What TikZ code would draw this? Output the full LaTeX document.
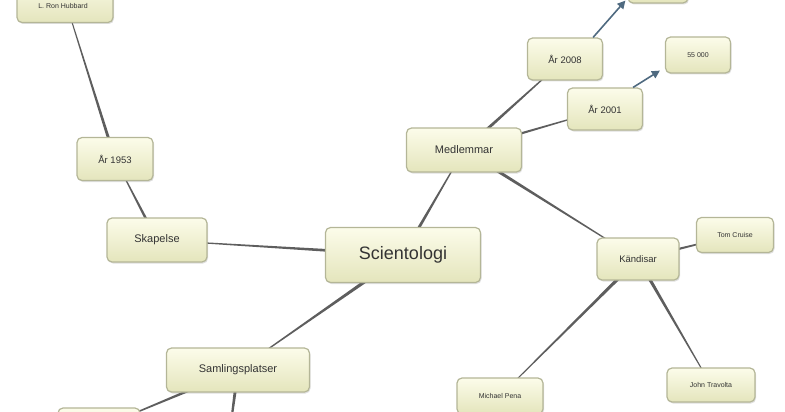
\documentclass[tikz,border=0pt]{standalone}
\usepackage{fontspec}
\setmainfont{Liberation Sans}
\usetikzlibrary{calc,backgrounds,shadows,arrows.meta}
\definecolor{edgec}{HTML}{5E5E5E}
\definecolor{arrc}{HTML}{4F6A80}
\definecolor{boxtop}{HTML}{FCFCEA}
\definecolor{boxbot}{HTML}{E4E5BC}
\definecolor{boxline}{HTML}{B4B697}
\tikzset{
  box/.style={draw=boxline, line width=1.2pt, rounded corners=5pt, top color=boxtop, bottom color=boxbot,
    drop shadow={shadow xshift=1pt,shadow yshift=-1.5pt,opacity=0.25}, font=\fontsize{9.5}{11}\selectfont, text=black!80, inner sep=0pt},
  sbox/.style={box, font=\fontsize{7}{8}\selectfont},
  lbl/.style={font=\fontsize{7}{8}\selectfont, text=black!80, inner sep=0pt},
  arr/.style={draw=arrc, line width=1.6pt, -{Triangle[length=8pt,width=8pt]}}
}
\newcommand{\taper}[3]{\fill[edgec] ($(#1)!#3!90:(#2)$) -- ($(#2)!0.35pt!-90:(#1)$) -- ($(#2)!0.35pt!90:(#1)$) -- ($(#1)!#3!-90:(#2)$) -- cycle;}
\begin{document}
\begin{tikzpicture}[x=1pt,y=-1pt]
\useasboundingbox (0,0) rectangle (785,412);
\node[box, minimum width=96pt, minimum height=45pt] (lrh) at (65,0) {};
\node[lbl] (lrht) at (63,6) {L. Ron Hubbard};
\node[box, minimum width=76pt, minimum height=43pt] (y53) at (115,159) {År 1953};
\node[box, minimum width=100pt, minimum height=44pt, font=\fontsize{11}{12}\selectfont] (skap) at (157,240) {Skapelse};
\node[box, minimum width=155pt, minimum height=55pt, font=\fontsize{18}{20}\selectfont] (sci) at (403,255) {Scientologi};
\node[box, minimum width=143pt, minimum height=44pt, font=\fontsize{11}{12}\selectfont] (saml) at (238,370) {Samlingsplatser};
\node[box, minimum width=82pt, minimum height=40pt] (bl) at (99,428) {};
\coordinate (bot) at (226,460);
\node[box, minimum width=115pt, minimum height=44pt, font=\fontsize{11}{12}\selectfont] (med) at (464,150) {Medlemmar};
\node[box, minimum width=75pt, minimum height=42pt] (y08) at (565,59) {År 2008};
\node[box, minimum width=60pt, minimum height=40pt] (top) at (658,-17) {};
\node[box, minimum width=75pt, minimum height=42pt] (y01) at (605,109) {År 2001};
\node[sbox, minimum width=65pt, minimum height=36pt] (n55) at (698,55) {55 000};
\node[box, minimum width=82pt, minimum height=42pt] (kand) at (638,259) {Kändisar};
\node[sbox, minimum width=77pt, minimum height=35pt] (tom) at (735,235) {Tom Cruise};
\node[sbox, minimum width=86pt, minimum height=36pt] (mich) at (500,396) {Michael Pena};
\node[sbox, minimum width=88pt, minimum height=34pt] (john) at (711,385) {John Travolta};
\begin{scope}[on background layer]
\taper{y53}{lrh}{1.6pt}
\taper{skap}{y53}{1.6pt}
\taper{sci}{skap}{1.8pt}
\taper{sci}{saml}{2pt}
\taper{saml}{bl}{1.8pt}
\taper{saml}{bot}{1.8pt}
\taper{sci}{med}{1.8pt}
\taper{med}{y08}{1.8pt}
\taper{med}{y01}{1.6pt}
\taper{med}{kand}{1.8pt}
\taper{kand}{tom}{1.6pt}
\taper{kand}{mich}{1.8pt}
\taper{kand}{john}{1.8pt}
\end{scope}
\draw[arr] ($(y08.north east)+(-10pt,0)$) -- ($(top.south west)+(-2pt,3pt)$);
\draw[arr] ($(y01.north east)+(-10pt,0)$) -- ($(n55.south west)+(-5pt,3pt)$);
\end{tikzpicture}
\end{document}
